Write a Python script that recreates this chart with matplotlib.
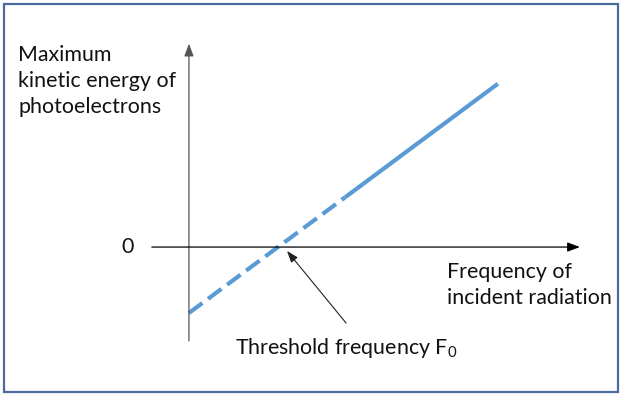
import matplotlib.pyplot as plt
from matplotlib.patches import Rectangle

# photoelectric effect: KE_max vs frequency (arbitrary units)
freq_dashed = [0.0, 5.25]
ke_dashed = [-2.22, 1.67]
freq_solid = [5.25, 10.4]
ke_solid = [1.67, 5.50]
threshold = 3.0

y_label = "Maximum\nkinetic energy of\nphotoelectrons"
x_label = "Frequency of\nincident radiation"
threshold_label = "Threshold frequency F$_0$"

plt.rcParams['font.family'] = ['Lato', 'DejaVu Sans']
plt.rcParams['mathtext.fontset'] = 'custom'
plt.rcParams['mathtext.rm'] = 'Lato'

fig = plt.figure(figsize=(6.23, 3.97), dpi=100)
ax = fig.add_axes([0, 0, 1, 1])
ax.set_xlim(-6.36, 14.61)
ax.set_ylim(-5.05, 8.32)
ax.axis('off')

# outer frame
fig.patches.append(Rectangle((4 / 623, 5 / 397), 614 / 623, 388 / 397,
                             transform=fig.transFigure, fill=False,
                             edgecolor='#4a6b9c', linewidth=1.6))

# axes with arrow heads
arrow = dict(arrowstyle='-|>,head_length=0.75,head_width=0.28', lw=0.9,
             shrinkA=0, shrinkB=0)
ax.annotate('', xy=(0, 6.85), xytext=(0, -3.16),
            arrowprops=dict(arrow, color='#555555'))
ax.annotate('', xy=(13.16, 0), xytext=(-1.25, 0),
            arrowprops=dict(arrow, color='black'))

# the line
ax.plot(freq_dashed, ke_dashed, color='#5b9bd5', lw=3, dashes=(4, 1.7),
        dash_capstyle='butt')
ax.plot(freq_solid, ke_solid, color='#5b9bd5', lw=3, solid_capstyle='butt')

# threshold pointer
ax.annotate('', xy=(threshold + 0.3, -0.13), xytext=(5.29, -2.56),
            arrowprops=dict(arrowstyle='-|>,head_length=0.7,head_width=0.25',
                            lw=0.8, color='#222222', shrinkA=0, shrinkB=0))

ax.text(-5.75, 6.8, y_label, fontsize=15.4, va='top', ha='left',
        linespacing=1.36, color='#111111')
ax.text(-1.85, 0, '0', fontsize=15.4, va='center', ha='right', color='#111111')
ax.text(8.69, -0.5, x_label, fontsize=15.4, va='top', ha='left',
        linespacing=1.36, color='#111111')
ax.text(1.55, -3.4, threshold_label, fontsize=15.4, va='center', ha='left',
        color='#111111')

plt.savefig('out.png')
